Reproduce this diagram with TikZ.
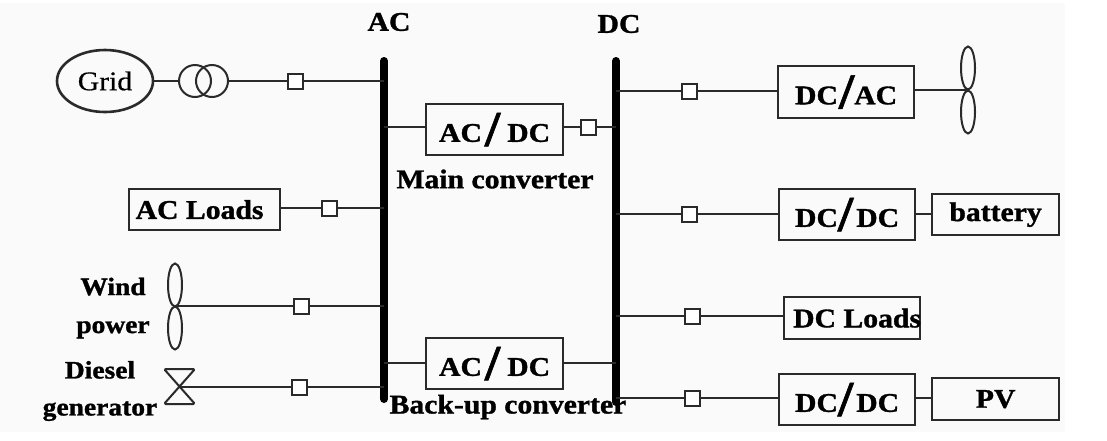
\documentclass[tikz,border=0pt]{standalone}
\usepackage{fontspec}
\setmainfont[FakeStretch=1.1,FakeBold=0.5,BoldFeatures={FakeStretch=1.1,FakeBold=1.2}]{Liberation Serif}
\definecolor{ink}{HTML}{2A2A2A}
\usetikzlibrary{shapes.geometric}
\tikzset{
 x=1pt,y=-1pt,
 wire/.style={draw=ink,line width=2pt},
 bus/.style={draw=black,line width=8pt,line cap=round},
 box/.style={draw=ink,line width=2.2pt,inner sep=0pt,anchor=north west,align=center,font=\bfseries\fontsize{27}{27}\selectfont},
 brk/.style={draw=ink,fill=white,line width=2pt,minimum size=15pt,inner sep=0pt},
 lbl/.style={inner sep=0pt,align=center,font=\bfseries\fontsize{27}{27}\selectfont},
 lbln/.style={inner sep=0pt,align=center,font=\bfseries\fontsize{25}{25}\selectfont},
 blade/.style={draw=ink,line width=2pt,ellipse,minimum width=14pt,minimum height=43pt,inner sep=0pt},
 ring/.style={draw=ink,line width=2pt,circle,minimum size=32pt,inner sep=0pt},
}
\newcommand{\bigsl}{\raisebox{-4pt}{\fontsize{50}{50}\selectfont/}}
\begin{document}
\begin{tikzpicture}
\useasboundingbox (0,0) rectangle (1107,440);
\fill[white] (0,0) rectangle (1107,440);
\fill[black!2] (0,3) rectangle (1065,432);
% buses
\coordinate (actop) at (384,61); \coordinate (acbot) at (384,399);
\coordinate (dctop) at (616,61); \coordinate (dcbot) at (616,402);
\draw[bus] (actop) -- (acbot);
\draw[bus] (dctop) -- (dcbot);
\node[lbl] (aclbl) at (389,22) {AC};
\node[lbl] (dclbl) at (619,24) {DC};
% Grid
\node[draw=ink,line width=2.6pt,ellipse,minimum width=96pt,minimum height=62pt,inner sep=0pt,font=\fontsize{27}{27}\selectfont] (grid) at (105,81) {Grid};
\node[ring] (t1) at (195,81) {};
\node[ring] (t2) at (212,81) {};
\node[brk] (b1) at (295,81) {};
\coordinate (ac1) at (384,81);
\draw[wire] (grid) -- (t1) (t2) -- (b1) -- (ac1);
% AC loads
\node[box,minimum width=151pt,minimum height=41pt] (acl) at (128,188) {\makebox[151pt][c]{AC Loads\hspace{10pt}}};
\node[brk] (b2) at (329,208) {};
\coordinate (ac2) at (384,208);
\draw[wire] (acl.east|-b2) -- (b2) -- (ac2);
% Wind
\node[blade] (w1) at (175,285) {};
\node[blade] (w2) at (175,328) {};
\coordinate (wc) at (175,306);
\node[brk] (b3) at (301,306) {};
\coordinate (ac3) at (384,306);
\draw[wire] (wc) -- (b3) -- (ac3);
\node[lbln] (wl) at (113,308) {Wind\\[13pt]power};
% Diesel
\coordinate (dc) at (180,387);
\draw[wire,line join=round,rounded corners=1.5pt] (164,369) -- (195,369) -- (164,404) -- (195,404) -- cycle;
\node[brk] (b4) at (299,387) {};
\coordinate (ac4) at (384,387);
\draw[wire] (dc) -- (b4) -- (ac4);
\node[lbln] (dl) at (100,391) {Diesel\\[12pt]generator};
% Main converter
\coordinate (ac5) at (384,127);
\node[box,minimum width=137pt,minimum height=51pt] (m) at (425,103) {\makebox[137pt][c]{AC\kern3pt\bigsl\kern7pt DC}};
\node[brk] (b5) at (588,127) {};
\coordinate (dc5) at (616,127);
\draw[wire] (ac5) -- (m.west|-ac5) (m.east|-ac5) -- (b5) -- (dc5);
\node[lbl] (ml) at (495,179) {Main converter};
% Back-up
\coordinate (ac6) at (384,363);
\coordinate (dc6) at (616,363);
\node[box,minimum width=137pt,minimum height=51pt] (bu) at (425,337) {\makebox[137pt][c]{AC\kern3pt\bigsl\kern7pt DC}};
\draw[wire] (ac6) -- (bu.west|-ac6) (bu.east|-dc6) -- (dc6);
\node[lbl] (bl) at (508,407) {Back-up converter};
% DC side
\coordinate (d1) at (616,91);
\node[brk] (c1) at (689,91) {};
\node[box,minimum width=136pt,minimum height=52pt] (da) at (777,65) {\makebox[136pt][c]{DC\kern1pt\bigsl\kern0pt AC}};
\node[blade] (w3) at (968,68) {};
\node[blade] (w4) at (968,112) {};
\coordinate (wd) at (968,90);
\draw[wire] (d1) -- (c1) -- (da.west|-c1) (da.east|-wd) -- (wd);
\coordinate (d2) at (616,214);
\node[brk] (c2) at (689,214) {};
\node[box,minimum width=136pt,minimum height=51pt] (dd1) at (778,188) {\makebox[136pt][c]{DC\kern0pt\bigsl\kern3pt DC}};
\node[box,minimum width=127pt,minimum height=41pt] (bat) at (931,193) {\raisebox{-3pt}{battery}};
\draw[wire] (d2) -- (c2) -- (dd1.west|-c2) (dd1.east|-c2) -- (bat.west|-c2);
\coordinate (d3) at (616,316);
\node[brk] (c3) at (692,316) {};
\node[box,minimum width=136pt,minimum height=42pt] (dl2) at (783,296) {\makebox[136pt][c]{\hspace{10pt}DC Loads}};
\draw[wire] (d3) -- (c3) -- (dl2.west|-c3);
\coordinate (d4) at (616,398);
\node[brk] (c4) at (692,398) {};
\node[box,minimum width=136pt,minimum height=51pt] (dd2) at (778,373) {\makebox[136pt][c]{DC\kern0pt\bigsl\kern3pt DC}};
\node[box,minimum width=127pt,minimum height=42pt] (pv) at (931,377) {PV};
\draw[wire] (d4) -- (c4) -- (dd2.west|-c4) (dd2.east|-c4) -- (pv.west|-c4);
\end{tikzpicture}
\end{document}
